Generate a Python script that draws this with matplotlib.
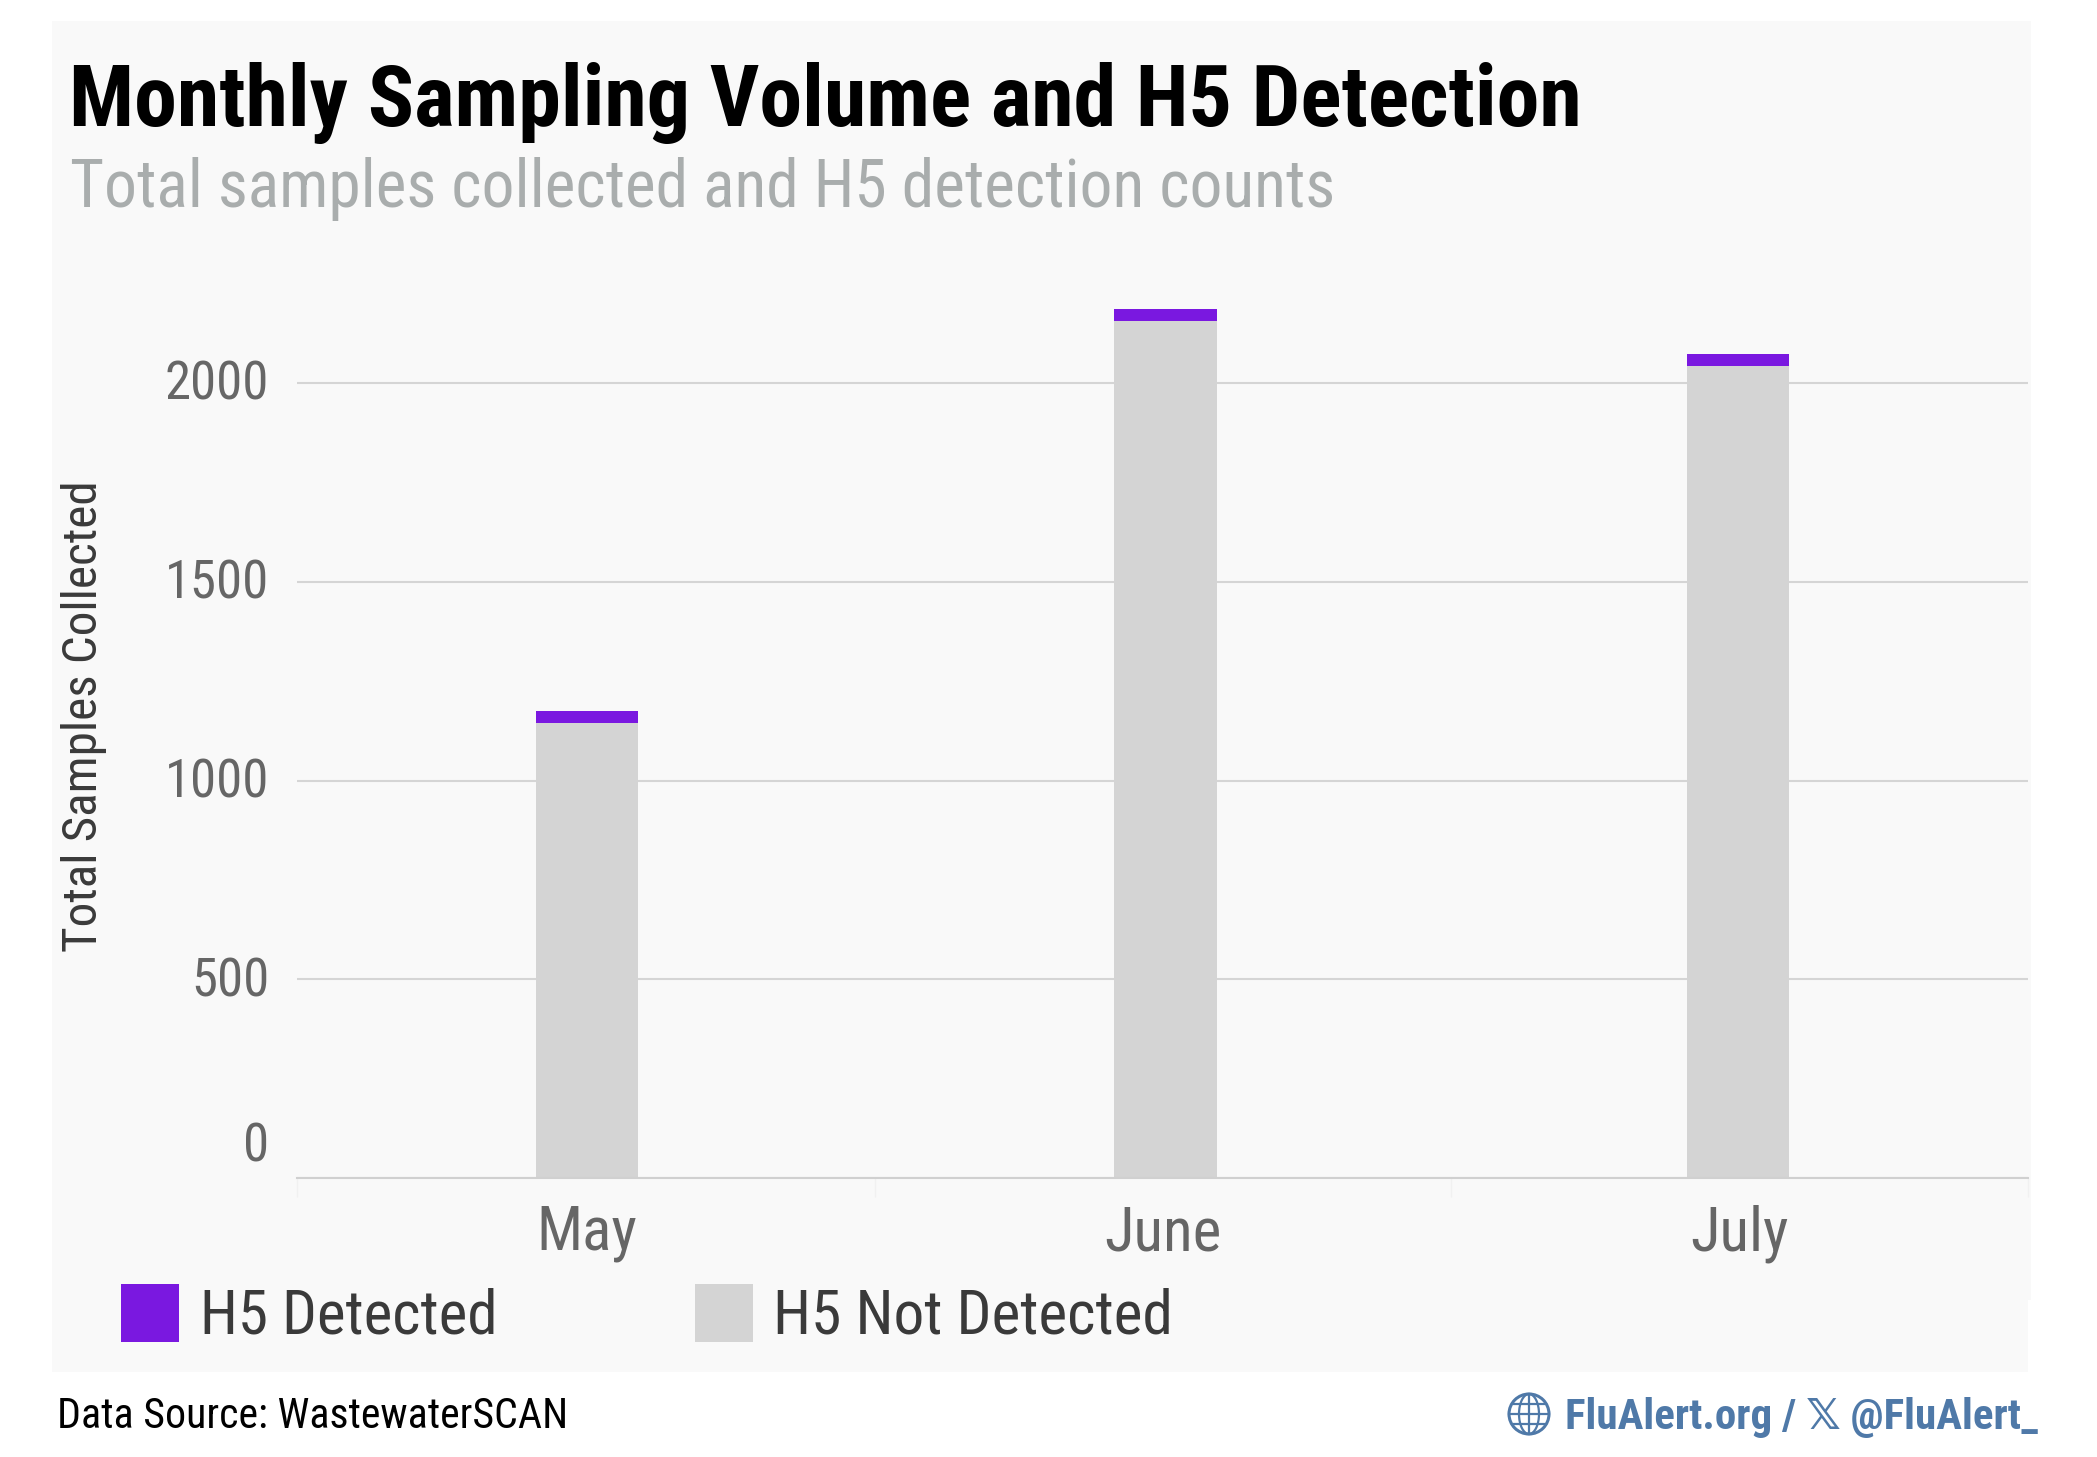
import matplotlib
matplotlib.use('Agg')
import matplotlib.pyplot as plt
from matplotlib.patches import Rectangle, Circle, Ellipse
from matplotlib.transforms import ScaledTranslation

W, H = 2097, 1457

months = ['May', 'June', 'July']
not_detected = [1144, 2155, 2042]
detected = [32, 31, 31]
y_ticks = [0, 500, 1000, 1500, 2000]

PANEL = '#f9f9f9'
PURPLE = '#7a18e0'
GREY = '#d4d4d4'
BLUE = '#4f79a8'

plt.rcParams['font.family'] = ['Roboto Condensed', 'DejaVu Sans']


def fx(px):
    return px / W


def fy(px):
    return 1 - px / H


def box(x0, y0, x1, y1, color):
    fig.add_artist(Rectangle((fx(x0), fy(y1)), (x1 - x0) / W, (y1 - y0) / H,
                             transform=fig.transFigure, facecolor=color,
                             edgecolor='none', zorder=-1))


fig = plt.figure(figsize=(W / 100, H / 100), dpi=100, facecolor='white')

# background panel, slightly narrower below the tick labels
box(52, 21, 2031, 1300, PANEL)
box(52, 1300, 2028, 1372, PANEL)

# plot area
ax_left, ax_right, ax_top, ax_bottom = 297, 2028, 250, 1178
ax = fig.add_axes([fx(ax_left), fy(ax_bottom), (ax_right - ax_left) / W, (ax_bottom - ax_top) / H])
ax.patch.set_visible(False)
ax.set_xlim(-0.5035, 2.5017)
ax.set_ylim(0, (ax_bottom - ax_top) / 0.3975)

bar_x = [0, 1.004, 1.998]
ax.bar(bar_x, not_detected, width=0.178, color=GREY, zorder=2)
ax.bar(bar_x, detected, bottom=not_detected, width=0.178, color=PURPLE, zorder=2)

ax.set_yticks(y_ticks)
ax.set_yticklabels([str(t) for t in y_ticks])
ax.set_xticks(range(len(months)))
ax.set_xticklabels(months)
ax.tick_params(axis='y', length=0, pad=20, labelsize=38, labelcolor='#666666')
ax.tick_params(axis='x', length=0, pad=19, labelsize=44, labelcolor='#666666')
ax.set_xticks([-0.5035, 0.5, 1.5, 2.5017], minor=True)
ax.tick_params(axis='x', which='minor', length=14, width=1, color='#f1f1f1')
ax.grid(axis='y', color='#d5d5d5', linewidth=1.5, zorder=1)
ax.set_axisbelow(True)
for side in ['top', 'left', 'right']:
    ax.spines[side].set_visible(False)
ax.spines['bottom'].set_color('#d0d0d0')
ax.spines['bottom'].set_linewidth(1.5)

# y labels sit a little high, the zero label well above the baseline
for value, label in zip(y_ticks, ax.get_yticklabels()):
    lift = 36 if value == 0 else 3
    label.set_transform(label.get_transform() + ScaledTranslation(0, lift / 100, fig.dpi_scale_trans))

fig.text(fx(84.5), fy(716), 'Total Samples Collected', rotation=90, ha='center', va='center',
         fontsize=35.4, color='#3a3a3a')

# heading
fig.text(fx(69), fy(125.5), 'Monthly Sampling Volume and H5 Detection', fontsize=61.8,
         fontweight='bold', color='black', va='baseline')
fig.text(fx(70), fy(207), 'Total samples collected and H5 detection counts', fontsize=47.2,
         color='#a9adad', va='baseline')

# legend
box(121, 1284, 179, 1342, PURPLE)
box(695, 1284, 753, 1342, GREY)
fig.text(fx(200), fy(1334), 'H5 Detected', fontsize=44, color='#3a3a3a', va='baseline')
fig.text(fx(773), fy(1334), 'H5 Not Detected', fontsize=44.2, color='#3a3a3a', va='baseline')

# footer
fig.text(fx(57), fy(1428), 'Data Source: WastewaterSCAN', fontsize=30.2, color='black', va='baseline')
fig.text(fx(1565), fy(1429), 'FluAlert.org / 𝕏 @FluAlert_', fontsize=31, fontweight='bold',
         color=BLUE, va='baseline')

# globe icon, drawn in pixel coordinates on an overlay
icon = fig.add_axes([0, 0, 1, 1], zorder=5)
icon.set_xlim(0, W)
icon.set_ylim(H, 0)
icon.axis('off')
gx, gy, gr = 1529, 1414, 20
icon.add_patch(Circle((gx, gy), gr, fill=False, edgecolor=BLUE, linewidth=2.2))
icon.add_patch(Ellipse((gx, gy), gr, 2 * gr, fill=False, edgecolor=BLUE, linewidth=1.6))
icon.plot([gx, gx], [gy - gr, gy + gr], color=BLUE, linewidth=1.6)
for dy, half in [(-10, 17), (0, 20), (10, 17)]:
    icon.plot([gx - half, gx + half], [gy + dy, gy + dy], color=BLUE, linewidth=1.6)

fig.savefig('out.png', dpi=100, facecolor='white')
